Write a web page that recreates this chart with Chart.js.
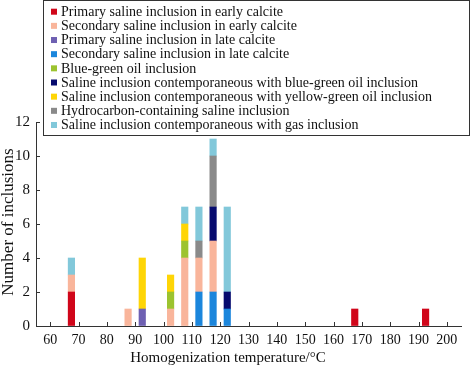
<!DOCTYPE html>
<html><head><meta charset="utf-8">
<script src="https://cdn.jsdelivr.net/npm/chart.js@4/dist/chart.umd.min.js"></script>
<style>html,body{margin:0;padding:0;background:#fff}#wrap{width:474px;height:370px;position:relative}</style>
</head><body><div id="wrap"><canvas id="c" width="474" height="370"></canvas></div>
<script>
// Bin centres (°C) of the homogenization-temperature histogram
const binCenters = [67.5, 87.5, 92.5, 102.5, 107.5, 112.5, 117.5, 122.5, 167.5, 192.5];

const seriesNames = [
  "Primary saline inclusion in early calcite",
  "Secondary saline inclusion in early calcite",
  "Primary saline inclusion in late calcite",
  "Secondary saline inclusion in late calcite",
  "Blue-green oil inclusion",
  "Saline inclusion contemporaneous with blue-green oil inclusion",
  "Saline inclusion contemporaneous with yellow-green oil inclusion",
  "Hydrocarbon-containing saline inclusion",
  "Saline inclusion contemporaneous with gas inclusion"
];

// Counts per bin
const primaryEarly   = [2, 0, 0, 0, 0, 0, 0, 0, 1, 1];
const secondaryEarly = [1, 1, 0, 1, 4, 2, 3, 0, 0, 0];
const primaryLate    = [0, 0, 1, 0, 0, 0, 0, 0, 0, 0];
const secondaryLate  = [0, 0, 0, 0, 0, 2, 2, 1, 0, 0];
const blueGreenOil   = [0, 0, 0, 1, 1, 0, 0, 0, 0, 0];
const withBlueGreen  = [0, 0, 0, 0, 0, 0, 2, 1, 0, 0];
const withYellowGreen= [0, 0, 3, 1, 1, 0, 0, 0, 0, 0];
const hydrocarbon    = [0, 0, 0, 0, 0, 1, 3, 0, 0, 0];
const withGas        = [1, 0, 0, 0, 1, 2, 1, 5, 0, 0];

const xTicks = [60, 70, 80, 90, 100, 110, 120, 130, 140, 150, 160, 170, 180, 190, 200];
const yTicks = [0, 2, 4, 6, 8, 10, 12];

const xTitle = "Homogenization temperature/°C";
const yTitle = "Number of inclusions";

const seriesValues = [primaryEarly, secondaryEarly, primaryLate, secondaryLate, blueGreenOil,
  withBlueGreen, withYellowGreen, hydrocarbon, withGas];
const seriesColors = ['#d0061a', '#f9b59b', '#6e60b2', '#1b86dc', '#9cc32f',
  '#060a6e', '#fed506', '#8a8a8a', '#82c8da'];
// stacking order (bottom -> top) as seen in the figure
const stackOrder = [0, 3, 1, 2, 4, 6, 5, 7, 8];

const datasets = seriesNames.map((name, k) => ({
  label: name,
  data: binCenters.map((x, i) => ({x: x, y: seriesValues[k][i]})).filter(p => p.y > 0),
  backgroundColor: seriesColors[k],
  borderWidth: 0,
  barThickness: 6.5,
  order: stackOrder[k]
}));

const SERIF = '"Liberation Serif", "Times New Roman", serif';

const decor = {
  id: 'decor',
  afterDraw(chart) {
    const ctx = chart.ctx;
    const xs = chart.scales.x, ys = chart.scales.y;
    const ca = chart.chartArea;
    ctx.save();
    ctx.strokeStyle = '#333';
    ctx.lineWidth = 1;
    ctx.beginPath();
    xTicks.forEach(v => {
      const px = Math.round(xs.getPixelForValue(v)) + 0.5;
      ctx.moveTo(px, ca.bottom); ctx.lineTo(px, ca.bottom - 4);
    });
    yTicks.forEach(v => {
      const py = Math.round(ys.getPixelForValue(v)) + 0.5;
      ctx.moveTo(ca.left, py); ctx.lineTo(ca.left + 4, py);
    });
    ctx.stroke();

    // axis titles
    ctx.fillStyle = '#111';
    ctx.font = '15px ' + SERIF;
    ctx.textAlign = 'center';
    ctx.textBaseline = 'middle';
    ctx.fillText(xTitle, 228, 358);
    ctx.save();
    ctx.translate(9, 222);
    ctx.rotate(-Math.PI / 2);
    ctx.font = '17px ' + SERIF;
    ctx.fillText(yTitle, 0, 0);
    ctx.restore();

    // legend box
    ctx.fillStyle = '#fff';
    ctx.fillRect(43.5, 0.5, 426, 135);
    ctx.strokeStyle = '#333';
    ctx.strokeRect(43.5, 0.5, 426, 135);
    ctx.font = '14px ' + SERIF;
    ctx.textAlign = 'left';
    seriesNames.forEach((name, i) => {
      const cy = 11.7 + i * 14.16;
      ctx.fillStyle = seriesColors[i];
      ctx.fillRect(51, cy - 3, 6, 6);
      ctx.fillStyle = '#111';
      ctx.fillText(name, 61, cy + 0.5);
    });
    ctx.restore();
  }
};

new Chart(document.getElementById('c'), {
  type: 'bar',
  data: { datasets: datasets },
  options: {
    responsive: false,
    devicePixelRatio: 1,
    animation: false,
    layout: { padding: { top: 122, right: 13, left: 0, bottom: 0 } },
    plugins: { legend: { display: false }, tooltip: { enabled: false } },
    scales: {
      x: {
        type: 'linear', min: 60, max: 200, stacked: true,
        afterBuildTicks: s => { s.ticks = xTicks.map(v => ({value: v})); },
        afterFit: s => { s.height = 44; },
        grid: { drawOnChartArea: false, drawTicks: false },
        border: { display: true, color: '#333', width: 1 },
        ticks: { padding: 6, color: '#111', font: { family: SERIF, size: 14 }, maxRotation: 0, autoSkip: false }
      },
      y: {
        min: 0, max: 12, stacked: true,
        afterBuildTicks: s => { s.ticks = yTicks.map(v => ({value: v})); },
        afterFit: s => { s.width = 36; },
        grid: { drawOnChartArea: false, drawTicks: false },
        border: { display: true, color: '#333', width: 1 },
        ticks: { padding: 6, color: '#111', font: { family: SERIF, size: 15 } }
      }
    }
  },
  plugins: [decor]
});
</script>
</body></html>
